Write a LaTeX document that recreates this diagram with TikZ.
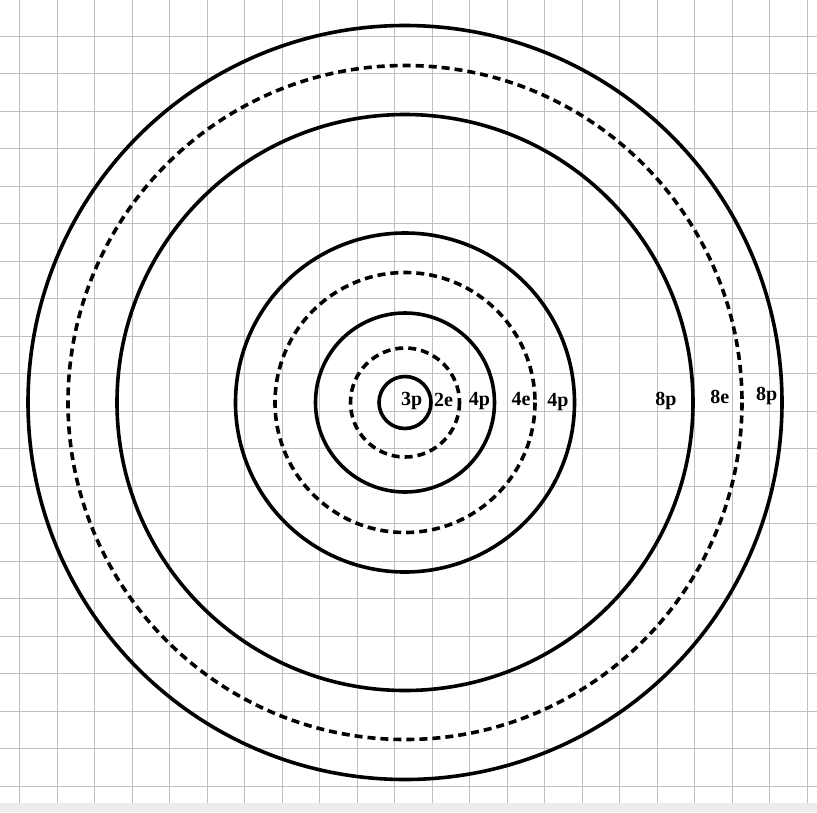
\documentclass[tikz,border=0pt]{standalone}
\usepackage{fontspec}
\setmainfont{Liberation Serif}
\usetikzlibrary{
  positioning
}

\begin{document}
\begin{tikzpicture}[
    x=1pt, y=-1pt,
    gridline/.style={
      draw=black!25,
      line width=1pt
    },
    shell/.style={
      draw=black,
      line width=3.6pt
    },
    cloud/.style={
      draw=black,
      line width=3.6pt,
      dash pattern=on 8pt off 5pt
    },
    charge/.style={
      inner sep=0pt,
      anchor=base,
      font=\fontsize{20}{22}\selectfont\bfseries
    }
  ]

  \useasboundingbox (0,0) rectangle (817,812);
  \fill[white] (0,0) rectangle (817,812);

  % Grid
  \foreach \i in {0,...,21}
    \draw[gridline] ({19.7+37.5*\i},0) -- ({19.7+37.5*\i},812);
  \foreach \j in {0,...,20}
    \draw[gridline] (0,{36+37.5*\j}) -- (817,{36+37.5*\j});
  \fill[black!7] (0,803) rectangle (817,812);

  \begin{scope}
    \coordinate (nucleus) at (405,402.5);

    % Inner shells
    \draw[shell] (nucleus) circle (26);
    \draw[cloud] (nucleus) circle (54.5);
    \draw[shell] (nucleus) circle (89.5);
    \draw[cloud] (nucleus) circle (130);
    \draw[shell] (nucleus) circle (169.5);

    % Outer shells
    \draw[shell] (nucleus) circle (288);
    \draw[cloud] (nucleus) circle (337);
    \draw[shell] (nucleus) circle (377);

    % Labels
    \node[charge] (p1) at (411.7,405.5) {3p};
    \node[charge] (e1) at (443.5,406.5) {2e};
    \node[charge] (p2) at (479.5,405.5) {4p};
    \node[charge] (e2) at (521,405) {4e};
    \node[charge] (p3) at (558,406.5) {4p};
    \node[charge] (p4) at (666,405) {8p};
    \node[charge] (e3) at (719.7,403.3) {8e};
    \node[charge] (p5) at (766.7,400) {8p};
  \end{scope}

\end{tikzpicture}
\end{document}
